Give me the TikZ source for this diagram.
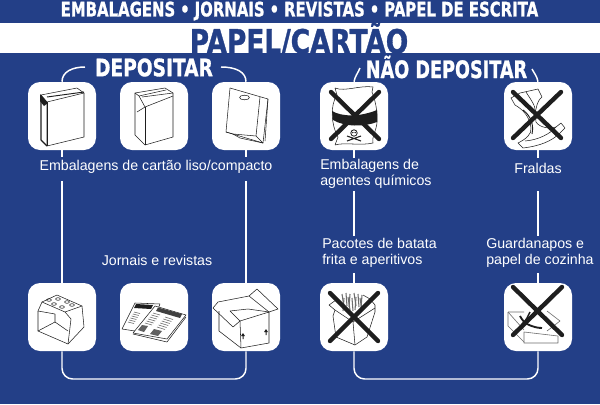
\documentclass[tikz,border=0pt]{standalone}
\usepackage{fontspec}
\setmainfont{Liberation Sans}
\newfontfamily\heavy{DejaVu Sans}[BoldFeatures={FakeBold=1.2}]
\definecolor{navy}{HTML}{233F87}
\definecolor{ink}{HTML}{1E1E1E}
\tikzset{
  tile/.style={fill=white,rounded corners=9pt,minimum width=51pt,minimum height=51pt,inner sep=0pt},
  link/.style={draw=white,line width=1.1pt},
  lab/.style={text=white,font=\fontsize{10.65pt}{12.2pt}\selectfont,inner sep=0pt},
  art/.style={draw=ink,line width=.4pt,line join=round},
  soft/.style={draw=ink!65,line width=.45pt,line join=round},
  cross/.style={draw=ink,line width=3.3pt,line cap=round},
  head/.style={inner sep=0pt,text=white},
}
\newcommand{\hv}[3]{\scalebox{#1}[1]{\heavy\bfseries\fontsize{#2}{#2}\selectfont #3}}
\begin{document}
\begin{tikzpicture}[x=.75pt,y=-.75pt]
\useasboundingbox (0,0) rectangle (600,404);
\fill[navy] (0,0) rectangle (600,404);
\fill[white] (0,23) rectangle (600,52.5);
\node[head] (top) at (299.5,11) {\hv{.745}{15pt}{EMBALAGENS\,\,•\,\,JORNAIS\,\,•\,\,REVISTAS\,\,•\,\,PAPEL DE ESCRITA}};
\begin{scope}
\clip (0,23) rectangle (600,52.5);
\node[head,text=navy] (title) at (299,39.5) {\hv{.79}{25pt}{PAPEL/CARTÃO}};
\end{scope}
\node[head] (dep) at (154,67.5) {\hv{.775}{18pt}{DEPOSITAR}};
\node[head] (nao) at (446.5,67) {\hv{.735}{18pt}{NÃO DEPOSITAR}};
% tiles
\node[tile] (a1) at (62,116) {};
\node[tile] (a2) at (154,116) {};
\node[tile] (a3) at (246,116) {};
\node[tile] (a4) at (62,317) {};
\node[tile] (a5) at (154,317) {};
\node[tile] (a6) at (246,317) {};
\node[tile] (b1) at (354,116) {};
\node[tile] (b2) at (538,116) {};
\node[tile] (b3) at (354,317) {};
\node[tile] (b4) at (538,317) {};
% labels
\node[lab] (l1) at (156,167) {Embalagens de cartão liso/compacto};
\node[lab] (l2) at (157,260.5) {Jornais e revistas};
\node[lab,align=left,anchor=west] (l3) at (320,174) {Embalagens de\\agentes químicos};
\node[lab] (l4) at (538,168) {Fraldas};
\node[lab,align=left,anchor=west] (l5) at (322,253) {Pacotes de batata\\frita e aperitivos};
\node[lab,align=left,anchor=west] (l6) at (486,253) {Guardanapos e\\papel de cozinha};
% free ends
\coordinate (d1) at (85,67); \coordinate (d2) at (221,67);
\coordinate (n1) at (360,68); \coordinate (n2) at (532,69);
\coordinate (g1) at (62,157); \coordinate (g2) at (62,181);
\coordinate (g3) at (246,157); \coordinate (g4) at (246,181);
\coordinate (h1) at (354,158); \coordinate (h2) at (354,191); \coordinate (h3) at (354,236); \coordinate (h4) at (354,273);
\coordinate (k1) at (538,158); \coordinate (k2) at (538,191); \coordinate (k3) at (538,236); \coordinate (k4) at (538,273);
% connectors
\draw[link] (a1.north) .. controls (62,72) and (72,67) .. (d1);
\draw[link] (a3.north) .. controls (246,72) and (236,67) .. (d2);
\draw[link] (b1.north) .. controls (355,76) and (358,73) .. (n1);
\draw[link] (b2.north) .. controls (537,76) and (534,73) .. (n2);
\draw[link] (a1.south) -- (g1);
\draw[link] (g2) -- (a4.north);
\draw[link] (a3.south) -- (g3);
\draw[link] (g4) -- (a6.north);
\draw[link] (b1.south) -- (h1);
\draw[link] (h2) -- (h3);
\draw[link] (h4) -- (b3.north);
\draw[link] (b2.south) -- (k1);
\draw[link] (k2) -- (k3);
\draw[link] (k4) -- (b4.north);
\draw[link,rounded corners=8pt] (a4.south) -- (62,379) -- (246,379) -- (a6.south);
\draw[link,rounded corners=8pt] (b3.south) -- (354,379) -- (538,379) -- (b4.south);
% icon: carton 1
\draw[art] (41,95) -- (77,88) -- (84,93) -- (47,102) -- cycle;
\draw[art] (47,102) -- (47,146) -- (84,137) -- (84,93);
\draw[art,line width=.9pt] (41,95) -- (41,140) -- (47,146);
\draw[art,line width=.7pt] (47,102) -- (47,146);
\draw[art,line width=.7pt] (47,97) -- (84,92);
\fill[ink] (40,94) -- (48,103) -- (44,106) -- (40,101) -- cycle;
% icon: carton 2
\draw[art] (135,93) -- (165,88) -- (173,93) -- (173,137) -- (145,145) -- (135,135) -- cycle;
\draw[art] (145,107) -- (145,145);
\draw[art] (145,107) -- (173,96);
\draw[art] (139,96) -- (145,107) -- (137,112) (135,93) -- (139,96) -- (166,90);
\draw[art] (142,97) -- (173,93);
% icon: bag
\draw[art] (230,88) -- (268,99) -- (263,143) -- (226,132) -- cycle;
\draw[art] (260,97) -- (256,136);
\draw[art] (263,143) -- (256,136) -- (233,134) -- (226,132);
\draw[art] (233,134) -- (240,138) -- (263,143);
\draw[art] (268,99) -- (265,141);
\draw[art] (244.5,97.5) ellipse (5 and 2.3);
% icon: egg box
\draw[art] (38,331) -- (38,311) -- (42,302) -- (57,295) -- (82,306) -- (84,327) -- (68,344) -- cycle;
\draw[art] (42,302) -- (65,312) -- (82,306);
\draw[art] (65,312) -- (71,319) -- (68,344);
\draw[art] (38,331) -- (55,322) -- (68,331);
\draw[art] (55,322) -- (55,314) (38,311) -- (55,314);
\foreach \x/\y in {49/300,58/299,54/304,67/302,62/307,72/305} \draw[art] (\x,\y) ellipse (2.4 and 1.3);
% icon: newspapers
\draw[art,fill=white] (122,329) -- (135,303) -- (160,304) -- (148,333) -- cycle;
\draw[art,fill=white] (133,333) -- (155,306) -- (186,315) -- (167,339) -- cycle;
\draw[art] (133,334) -- (167,342) -- (186,317);
\fill[ink] (136,304) -- (153,305) -- (151,309) -- (134,308) -- cycle;
\fill[ink!85] (158,307.5) -- (182,314) -- (180,318) -- (156,311) -- cycle;
\foreach \t in {0,2,...,10} {
  \draw[soft] (128+.6*\t,322-\t) -- (134+.6*\t,323.5-\t);
  \draw[soft] (145+.8*\t,323-\t) -- (152+.8*\t,325-\t);
  \draw[soft] (157+.8*\t,327-\t) -- (165+.8*\t,329.5-\t);
}
\fill[ink!70] (138,330) -- (142,325) -- (148,326) -- (144,332) -- cycle;
\fill[ink!70] (150,334) -- (154,329) -- (162,331) -- (158,336) -- cycle;
% icon: open box
\draw[art] (219,311) -- (219,331) -- (241,348) -- (269,343) -- (269,312) -- (240,321);
\draw[art] (241,348) -- (240,321);
\draw[art] (213,308) -- (218,302) -- (249,296) -- (269,312);
\draw[art] (213,308) -- (233,327) -- (240,321);
\draw[art] (249,296) -- (257,289) -- (278,309) -- (269,312);
\draw[art] (230,311) -- (248,309) -- (269,312) (230,311) -- (240,321);
\fill[ink] (243,333) -- (241,336) -- (242.5,336) -- (242.5,339) -- (243.5,339) -- (243.5,336) -- (245,336) -- cycle;
\fill[ink] (266,329) -- (264,332) -- (265.5,332) -- (265.5,335) -- (266.5,335) -- (266.5,332) -- (268,332) -- cycle;
% icon: sack
\draw[art] (335,88) .. controls (345,92) and (360,85) .. (373,87) -- (372,92) .. controls (376,102) and (379,118) .. (376,128) .. controls (374,135) and (372,138) .. (373,143) .. controls (360,146) and (345,142) .. (335,145) -- (338,137) .. controls (331,125) and (330,105) .. (337,95) -- cycle;
\fill[ink] (332,111) .. controls (342,117) and (360,117) .. (377,110) -- (377,122) .. controls (364,127) and (345,127) .. (333,120) -- cycle;
\draw[art,line width=.6pt] (354,133) circle (3.2);
\fill[ink] (352.8,132.5) circle (.8) (355.2,132.5) circle (.8);
\draw[art,line width=.8pt] (347,136) -- (361,141) (361,136) -- (347,141);
% icon: diaper
\draw[art] (511,98) -- (520,93) -- (538,89) -- (542,97) .. controls (536,102) and (537,108) .. (535,112) -- (536,122) .. controls (540,128) and (550,129) .. (556,127) -- (561,123) -- (565,128) -- (560,133) .. controls (552,141) and (540,146) .. (523,148) -- (520,145) -- (518,143) .. controls (526,139) and (532,134) .. (531,128) .. controls (530,118) and (524,110) .. (515,105) -- cycle;
\draw[art] (526,92) .. controls (531,100) and (536,106) .. (535,112);
\draw[art,line width=.7pt] (523,110) .. controls (531,116) and (534,125) .. (532,134);
\draw[art] (525,141) .. controls (538,140) and (550,134) .. (556,127);
% icon: fries box
\draw[art] (329,305) -- (335,310) -- (333,316) -- (336,337) -- (355,345) -- (367,337) -- (375,312) -- (375,305) -- (370,299) -- (363,295);
\draw[art] (335,310) -- (353,322) -- (355,345) (353,322) -- (375,308);
\draw[art] (329,305) -- (336,300);
\foreach \x/\t/\d in {342/294/2,344/298/-1,346/293/1,348/297/2,350/294/-1,352/298/1,354/293/2,356/297/-1,358/294/1,360/298/2,362/295/-1}
  \draw[draw=ink!65,line width=.8pt] (\x,\t) -- (\x+\d,\t+13);
% icon: napkins box
\draw[soft] (524,332) -- (558,336) -- (558,343) -- (524,343) -- cycle;
\draw[soft] (508,312) -- (524,312) (508,312) -- (508,326) -- (524,342);
\draw[soft] (508,312) -- (524,330);
\draw[soft] (547,311) -- (560,321) -- (547,331);
\draw[draw=ink,line width=1.4pt] (520,316) .. controls (522,320) and (525,323) .. (527,324) .. controls (533,327) and (538,328) .. (542,328);
\draw[draw=ink,line width=1.1pt] (522,324) .. controls (526,321) and (528,316) .. (530,312);
% crosses
\draw[cross] (331,92) -- (379,139) (379,92) -- (331,139);
\draw[cross] (513,92) -- (561,138) (561,92) -- (513,138);
\draw[cross] (330,293) -- (378,341) (378,293) -- (330,341);
\draw[cross] (513,287) -- (562,335) (562,287) -- (513,335);
\end{tikzpicture}
\end{document}
